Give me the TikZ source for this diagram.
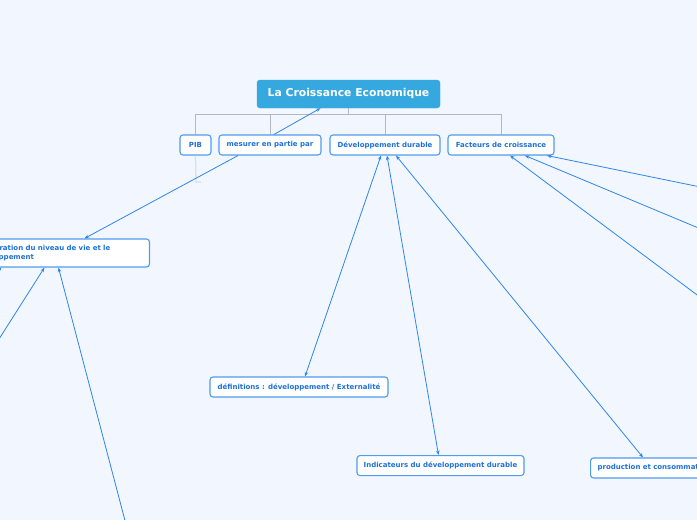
\documentclass[tikz,border=0pt]{standalone}
\usepackage{fontspec}
\setmainfont{DejaVu Sans}
\usetikzlibrary{arrows.meta}
\definecolor{cBg}{HTML}{F2F6FE}
\definecolor{cRoot}{HTML}{35A8E0}
\definecolor{cBorder}{HTML}{4F9BEE}
\definecolor{cText}{HTML}{1C72D8}
\definecolor{cTree}{HTML}{B4B6C0}
\definecolor{cStub}{HTML}{DADFE8}
\definecolor{cRel}{HTML}{2E86E8}
\tikzset{
  rootBox/.style={draw=cRoot, fill=cRoot, rounded corners=3pt, text=white,
                  font=\bfseries\fontsize{10.8}{12}\selectfont,
                  minimum width=183pt, minimum height=28pt, inner sep=0pt},
  topicBox/.style={draw=cBorder, fill=white, line width=1.1pt, rounded corners=3pt,
                   text=cText, font=\bfseries\fontsize{7}{9}\selectfont,
                   minimum height=20pt, inner sep=0pt},
  treeLine/.style={draw=cTree, line width=0.9pt},
  stubLine/.style={draw=cStub, line width=1.3pt},
  rel/.style={draw=cRel, line width=0.8pt, -{Stealth[length=4.5pt,width=3.5pt]}},
  relBoth/.style={rel, {Stealth[length=4.5pt,width=3.5pt]}-{Stealth[length=4.5pt,width=3.5pt]}},
}

\begin{document}
\begin{tikzpicture}[x=1pt, y=-1pt]

\useasboundingbox (0,0) rectangle (697,520);
\fill[cBg] (0,0) rectangle (697,520);
\clip (0,0) rectangle (697,520);

% ========== ROOT AND MAIN TOPICS ==========
\node[rootBox] (root) at (348.5,94) {La Croissance Economique};

\node[topicBox, minimum width=31pt]  (pib)      at (195.5,145) {PIB};
\node[topicBox, minimum width=102pt] (mesurer)  at (270,145)   {mesurer en partie par};
\node[topicBox, minimum width=110pt] (devdur)   at (385,145)   {Développement durable};
\node[topicBox, minimum width=106pt] (facteurs) at (501,145)   {Facteurs de croissance};

\coordinate (busY) at (0,114);
\foreach \c in {pib, mesurer, devdur, facteurs}
  \draw[treeLine] (\c.north) -- (\c.north |- busY) -| (root.south);

% collapsed branch under PIB
\coordinate (pibEnd) at (196,182);
\draw[stubLine] (pib.south) -- (pibEnd) -- ++(5,0);

% ========== FLOATING TOPICS ==========
\node[topicBox, text width=170pt, align=left, inner xsep=7pt, minimum height=28pt,
      anchor=east] (amelio) at (150,253)
  {Amélioration du niveau de vie et le\\développement};

\node[topicBox, minimum width=178pt] (defin) at (299,387)
  {définitions : développement / Externalité};
\node[topicBox, minimum width=167pt, anchor=north] (indic) at (440.5,455)
  {Indicateurs du développement durable};
\node[topicBox, text width=140pt, align=left, inner xsep=7pt, anchor=west] (prod) at (590,468)
  {production et consommation};

% off-page ends
\coordinate (srcA) at (-20,369);
\coordinate (srcB) at (128,532);
\coordinate (srcC) at (-16,286);
\coordinate (srcD) at (720,191);
\coordinate (srcE) at (720,237);
\coordinate (srcF) at (720,312);

% ========== RELATIONSHIPS ==========
\draw[rel] ([xshift=4pt]mesurer.north) -- ([xshift=-28pt]root.south);
\draw[rel] ([xshift=-32pt]mesurer.south) -- ([xshift=27pt]amelio.north);

\draw[rel] (srcA) -- ([xshift=-13pt]amelio.south);
\draw[rel] (srcB) -- ([xshift=1pt]amelio.south);
\draw[rel] (srcC) -- ([xshift=-56pt]amelio.south);

\draw[relBoth] ([xshift=6pt]defin.north) -- ([xshift=-4pt]devdur.south);
\draw[relBoth] ([xshift=-2pt]indic.north) -- ([xshift=2pt]devdur.south);
\draw[relBoth] ([xshift=53pt]prod.north west) -- ([xshift=11pt]devdur.south);

\draw[rel] (srcD) -- ([xshift=46pt]facteurs.south);
\draw[rel] (srcE) -- ([xshift=24pt]facteurs.south);
\draw[rel] (srcF) -- ([xshift=9pt]facteurs.south);

\end{tikzpicture}
\end{document}
